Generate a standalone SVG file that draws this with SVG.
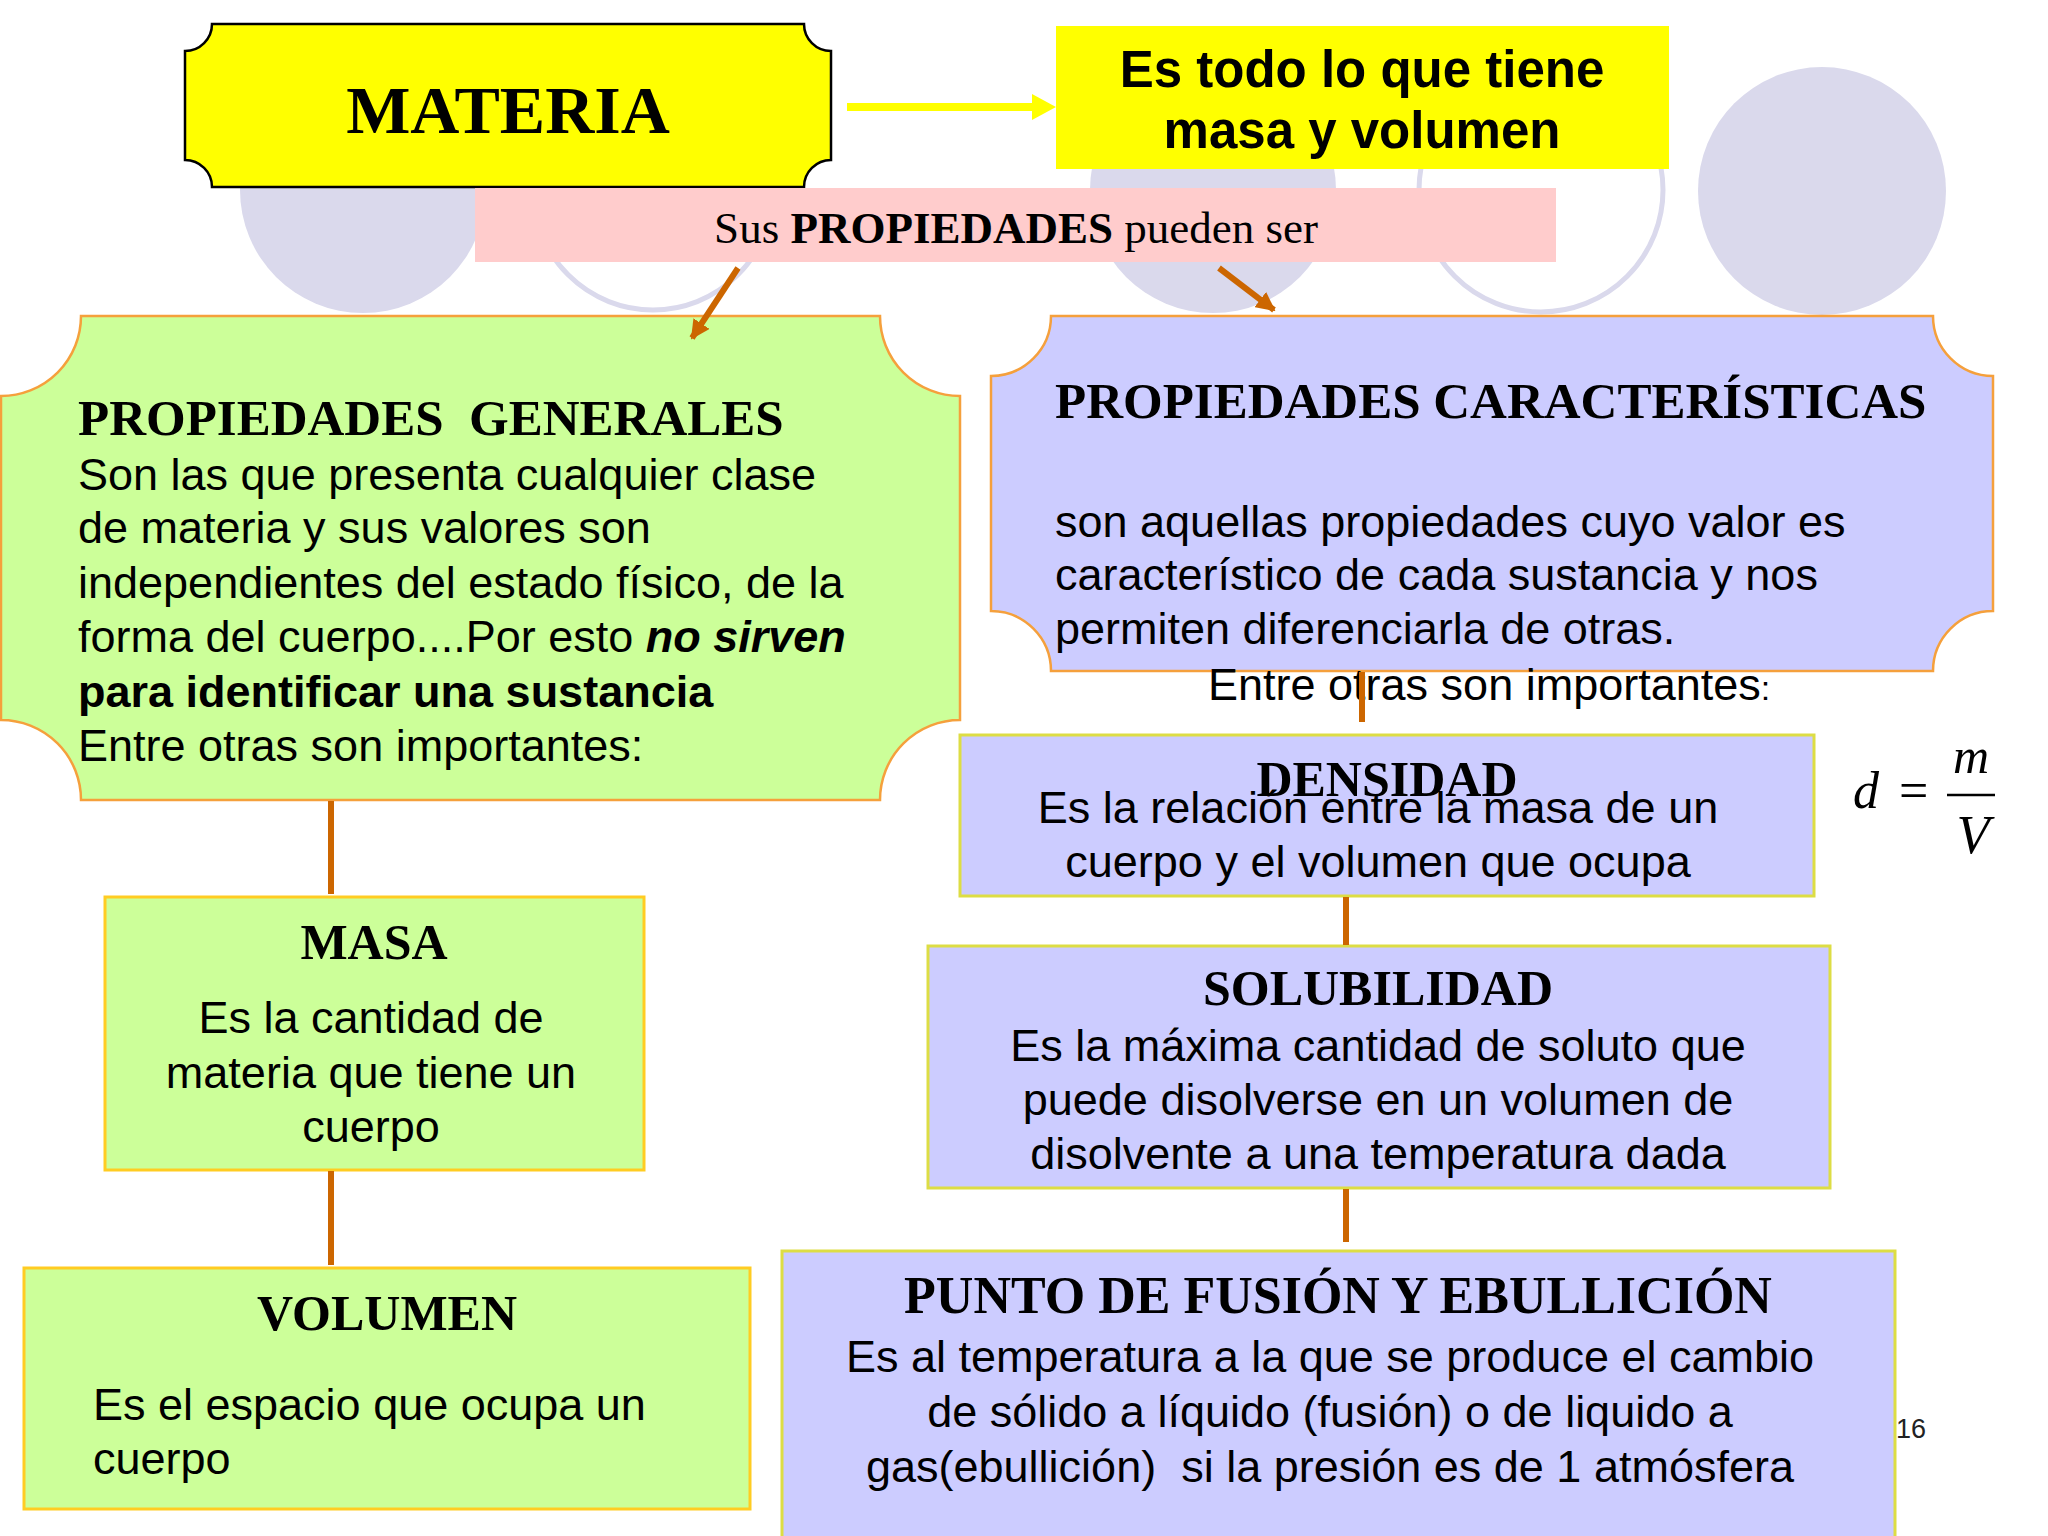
<svg xmlns="http://www.w3.org/2000/svg" width="2048" height="1536" viewBox="0 0 2048 1536">
<defs>
<style>
.serif{font-family:"Liberation Serif","Times New Roman",serif;}
.sans{font-family:"Liberation Sans",Arial,sans-serif;}
.title{font-family:"Liberation Serif","Times New Roman",serif;font-weight:bold;font-size:50px;fill:#000;}
.body{font-family:"Liberation Sans",Arial,sans-serif;font-size:45px;fill:#000;}
.c{text-anchor:middle;}
.deco-fill{fill:#DAD9EC;}
.deco-ring{fill:#FFFFFF;stroke:#DAD9EC;stroke-width:5;}
.green{fill:#CCFF99;}
.lav{fill:#CCCCFF;}
.plaque-stroke{stroke:#F5A03C;stroke-width:2.5;}
.gbox{fill:#CCFF99;stroke:#FFCC22;stroke-width:3;}
.lbox{fill:#CCCCFF;stroke:#DDDD44;stroke-width:3;}
.conn{stroke:#CC6600;stroke-width:6;fill:none;}
</style>
<marker id="oarrow" viewBox="0 0 10 10" refX="9" refY="5" markerWidth="3.2" markerHeight="3.2" orient="auto" markerUnits="strokeWidth">
<path d="M0,0 L10,5 L0,10 Z" fill="#CC6600"/>
</marker>
</defs>
<rect width="2048" height="1536" fill="#FFFFFF"/>

<g id="decoration">
<circle class="deco-fill" cx="363" cy="190" r="123"/>
<circle class="deco-ring" cx="653" cy="190" r="120"/>
<circle class="deco-fill" cx="1213" cy="190" r="123"/>
<circle class="deco-ring" cx="1541" cy="190" r="122"/>
<circle class="deco-fill" cx="1822" cy="191" r="124"/>
</g>

<g id="materia">
<path d="M212,24 H804 A27 27 0 0 0 831,51 V160 A27 27 0 0 0 804,187 H212 A27 27 0 0 0 185,160 V51 A27 27 0 0 0 212,24 Z" fill="#FFFF00" stroke="#000" stroke-width="2.5"/>
<text class="serif c" x="508" y="133" font-size="68" font-weight="bold">MATERIA</text>
</g>

<g id="definicion">
<rect x="1056" y="26" width="613" height="143" fill="#FFFF00"/>
<text class="sans c" x="1362" y="87" font-size="51" font-weight="bold">Es todo lo que tiene</text>
<text class="sans c" x="1362" y="148" font-size="51" font-weight="bold">masa y volumen</text>
</g>

<g id="propiedades-band">
<rect x="475" y="188" width="1081" height="74" fill="#FFCCCC"/>
<text class="serif c" x="1016" y="243" font-size="45">Sus <tspan font-weight="bold">PROPIEDADES</tspan> pueden ser</text>
</g>

<g id="generales">
<path class="green plaque-stroke" d="M81,316 H880 A80 80 0 0 0 960,396 V720 A80 80 0 0 0 880,800 H81 A80 80 0 0 0 1,720 V396 A80 80 0 0 0 81,316 Z"/>
<text class="title" x="78" y="435" style="font-size:51px" xml:space="preserve">PROPIEDADES  GENERALES</text>
<text class="body" x="78" y="490">Son las que presenta cualquier clase</text>
<text class="body" x="78" y="543">de materia y sus valores son</text>
<text class="body" x="78" y="598">independientes del estado físico, de la</text>
<text class="body" x="78" y="652">forma del cuerpo....Por esto <tspan font-weight="bold" font-style="italic">no sirven</tspan></text>
<text class="body" x="78" y="707" font-weight="bold">para identificar una sustancia</text>
<text class="body" x="78" y="761">Entre otras son importantes:</text>
</g>

<g id="caracteristicas">
<path class="lav plaque-stroke" d="M1051,316 H1933 A60 60 0 0 0 1993,376 V611 A60 60 0 0 0 1933,671 H1051 A60 60 0 0 0 991,611 V376 A60 60 0 0 0 1051,316 Z"/>
<text class="title" x="1055" y="418" style="font-size:51px">PROPIEDADES CARACTERÍSTICAS</text>
<text class="body" x="1055" y="537">son aquellas propiedades cuyo valor es</text>
<text class="body" x="1055" y="590">característico de cada sustancia y nos</text>
<text class="body" x="1055" y="644">permiten diferenciarla de otras.</text>
</g>

<g id="entre-otras">
<text class="body" x="1208" y="700">Entre otras son importantes<tspan font-size="34">:</tspan></text>
</g>

<g id="masa">
<rect class="gbox" x="105" y="897" width="539" height="273"/>
<text class="title c" x="374" y="959">MASA</text>
<text class="body c" x="371" y="1033">Es la cantidad de</text>
<text class="body c" x="371" y="1088">materia que tiene un</text>
<text class="body c" x="371" y="1142">cuerpo</text>
</g>

<g id="volumen">
<rect class="gbox" x="24" y="1268" width="726" height="241"/>
<text class="title c" x="387" y="1330">VOLUMEN</text>
<text class="body" x="93" y="1420">Es el espacio que ocupa un</text>
<text class="body" x="93" y="1474">cuerpo</text>
</g>

<g id="densidad">
<rect class="lbox" x="960" y="735" width="854" height="161"/>
<text class="title c" x="1387" y="796">DENSIDAD</text>
<text class="body c" x="1378" y="823">Es la relación entre la masa de un</text>
<text class="body c" x="1378" y="877">cuerpo y el volumen que ocupa</text>
</g>

<g id="formula">
<text class="serif" x="1853" y="808" font-size="52" font-style="italic">d</text>
<text class="serif" x="1899" y="808" font-size="52">=</text>
<line x1="1947" y1="795" x2="1995" y2="795" stroke="#000" stroke-width="2.5"/>
<text class="serif c" x="1971" y="773" font-size="50" font-style="italic">m</text>
<text class="serif c" x="1973" y="853" font-size="54" font-style="italic">V</text>
</g>

<g id="solubilidad">
<rect class="lbox" x="928" y="946" width="902" height="242"/>
<text class="title c" x="1378" y="1005">SOLUBILIDAD</text>
<text class="body c" x="1378" y="1061">Es la máxima cantidad de soluto que</text>
<text class="body c" x="1378" y="1115">puede disolverse en un volumen de</text>
<text class="body c" x="1378" y="1169">disolvente a una temperatura dada</text>
</g>

<g id="punto">
<rect class="lbox" x="782" y="1251" width="1113" height="290"/>
<text class="title c" x="1338" y="1313" style="font-size:52px">PUNTO DE FUSIÓN Y EBULLICIÓN</text>
<text class="body c" x="1330" y="1372">Es al temperatura a la que se produce el cambio</text>
<text class="body c" x="1330" y="1427">de sólido a líquido (fusión) o de liquido a</text>
<text class="body c" x="1330" y="1482" xml:space="preserve">gas(ebullición)  si la presión es de 1 atmósfera</text>
</g>

<g id="page-number">
<text class="sans" x="1896" y="1438" font-size="27" fill="#222">16</text>
</g>

<g id="connectors">
<line x1="847" y1="107" x2="1034" y2="107" stroke="#FFFF00" stroke-width="8"/>
<path d="M1032,94 L1056,107 L1032,120 Z" fill="#FFFF00"/>
<line class="conn" x1="738" y1="268" x2="692" y2="338" marker-end="url(#oarrow)"/>
<line class="conn" x1="1219" y1="268" x2="1274" y2="310" marker-end="url(#oarrow)"/>
<line class="conn" x1="331" y1="801" x2="331" y2="894"/>
<line class="conn" x1="331" y1="1171" x2="331" y2="1265"/>
<line class="conn" x1="1362" y1="672" x2="1362" y2="722"/>
<line class="conn" x1="1346" y1="897" x2="1346" y2="945"/>
<line class="conn" x1="1346" y1="1189" x2="1346" y2="1242"/>
</g>
</svg>
